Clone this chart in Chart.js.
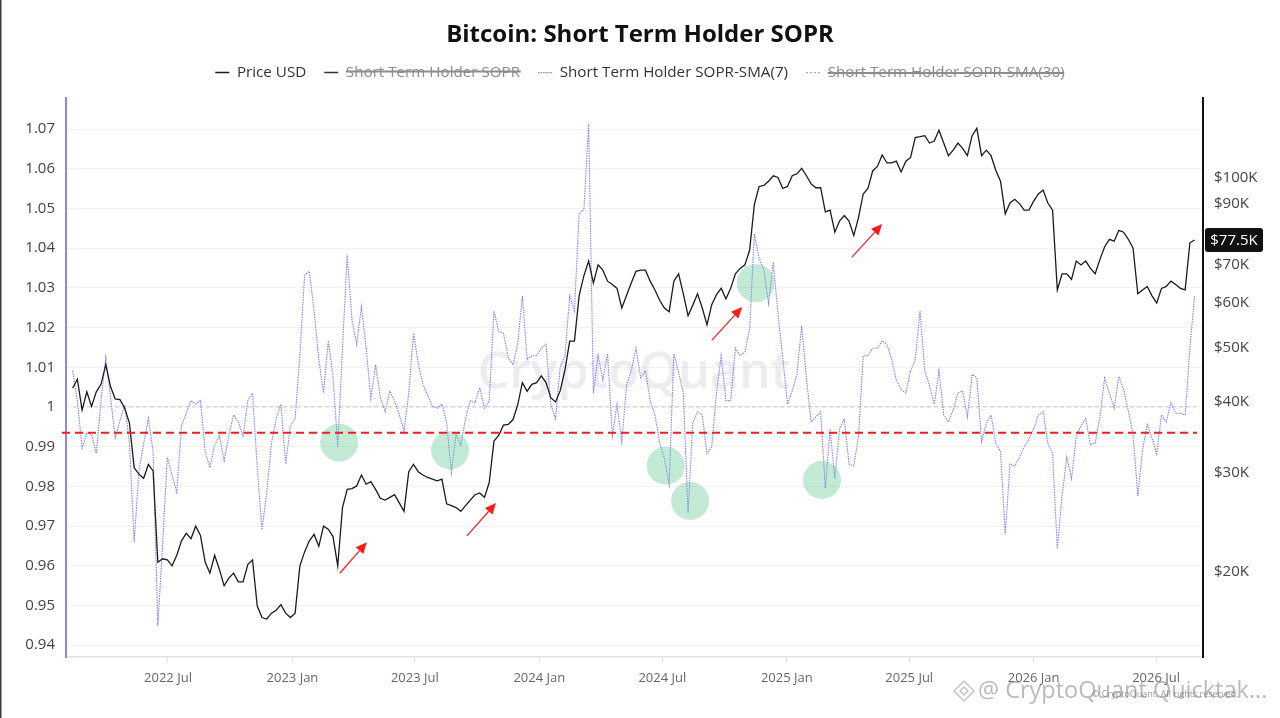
<!DOCTYPE html>
<html>
<head>
<meta charset="utf-8">
<title>Bitcoin: Short Term Holder SOPR</title>
<script src="https://cdn.jsdelivr.net/npm/chart.js@4.4.1/dist/chart.umd.min.js"></script>
<style>
  html, body { margin: 0; padding: 0; background: #fff; }
  #wrap { width: 1280px; height: 718px; position: relative; }
</style>
</head>
<body>
<div id="wrap"><canvas id="chart" width="1280" height="718"></canvas></div>
<script>
// weekly samples, first one on 2022-02-10
const startDate = '2022-02-10';
const stepDays = 7;

// Price USD
const priceUsd = [
  42300, 43900, 38700, 41700, 39300, 41700, 43000, 46600, 42600, 40500,
  40400, 39000, 36700, 30600, 29800, 29300, 31000, 30200, 20800, 21100,
  21000, 20500, 21400, 22700, 23400, 22900, 24100, 23200, 20800, 19900,
  21400, 20200, 18900, 19500, 19900, 19200, 19200, 20600, 21000, 17400,
  16600, 16500, 16900, 17100, 17500, 16900, 16600, 16900, 20500, 21700,
  22700, 23300, 22200, 24100, 23800, 23100, 20500, 26000, 28000,
  28100, 28400, 29700, 28600, 28900, 28000, 27000, 26800, 27100, 27400,
  26500, 25600, 30100, 31000, 30100, 29700, 29400, 29200, 29000, 29200,
  26400, 26200, 26000, 25600, 26200, 26800, 27400, 27600, 27100, 28800,
  34100, 34900, 36400, 36500, 37200, 39500, 43300, 41800, 43000, 43300,
  44500, 43300, 40700, 40000, 41900, 45600, 51300, 51300, 61800, 67000,
  71100, 65000, 70000, 68500, 65500, 64600, 63600, 58700, 61800,
  65000, 68200, 68500, 68500, 65500, 63200, 60600, 58700, 57800, 65500,
  67500, 62200, 56900, 59400, 62200, 58700, 54800, 59500, 62000, 63600,
  60900, 63600, 67500, 69000, 70000, 74300, 89500, 96400, 96800, 98500,
  100700, 100000, 95600, 96400, 100700, 101500, 103800, 100700, 97400, 95900,
  95900, 86900, 87500, 80000, 83700, 85600, 83700, 78900, 84900, 93500,
  95600, 102700, 104600, 109600, 106100, 106100, 106900, 102300, 106900,
  108500, 117700, 118100, 118600, 115100, 116000, 121300, 115100, 109300, 111800,
  115100, 112600, 109300, 118600, 122200, 109300, 111800, 109300, 103000, 98500,
  86200, 90100, 91500, 89900, 87500, 87500, 90800, 93500, 95000, 90100,
  87500, 63200, 67500, 67500, 66000, 71100, 70000, 71100, 69000, 67500,
  71600, 75400, 77700, 77100, 80600, 80000, 77700, 74900, 62200, 63200,
  64100, 61700, 59900, 63600, 64100, 65500, 64600, 63600, 63200, 76600,
  77500
];

// Short Term Holder SOPR-SMA(7)
const soprSma7 = [
  1.0092, 1.0016, 0.9896, 0.9935, 0.9931, 0.9882, 1.0016, 1.0125, 1.0025, 0.9922,
  0.9966, 1.0005, 0.9909, 0.9660, 0.9838, 0.9907, 0.9971, 0.9887, 0.9449, 0.9652,
  0.9873, 0.9829, 0.9785, 0.9953, 0.9984, 1.0016, 1.0007, 1.0016, 0.9887, 0.9847,
  0.9904, 0.9927, 0.9865, 0.9928, 0.9980, 0.9962, 0.9927, 1.0016, 1.0035, 0.9847,
  0.9690, 0.9785, 0.9909, 0.9971, 1.0007, 0.9856, 0.9953, 0.9971, 1.0129, 1.0332,
  1.0342, 1.0242, 1.0120, 1.0035, 1.0167, 1.0077, 0.9900, 1.0148, 1.0384,
  1.0219, 1.0158, 1.0252, 1.0148, 1.0021, 1.0106, 1.0025, 0.9988, 1.0040, 1.0016,
  0.9980, 0.9940, 1.0035, 1.0186, 1.0110, 1.0058, 1.0030, 1.0002, 0.9997, 1.0007,
  0.9962, 0.9835, 0.9931, 0.9904, 0.9971, 1.0016, 1.0011, 1.0049, 0.9997, 1.0016,
  1.0242, 1.0191, 1.0186, 1.0125, 1.0106, 1.0158, 1.0280, 1.0120, 1.0129, 1.0129,
  1.0148, 1.0158, 1.0007, 0.9971, 1.0101, 1.0129, 1.0280, 1.0242, 1.0488, 1.0497,
  1.0714, 1.0035, 1.0129, 1.0068, 1.0134, 0.9927, 1.0007, 0.9913, 1.0054,
  1.0092, 1.0148, 1.0073, 1.0092, 1.0016, 0.9980, 0.9909, 0.9870, 0.9805, 1.0134,
  1.0087, 1.0035, 0.9732, 0.9962, 0.9988, 0.9980, 0.9882, 0.9900, 1.0035, 1.0129,
  1.0016, 1.0016, 1.0148, 1.0129, 1.0139, 1.0195, 1.0436, 1.0375, 1.0346, 1.0261,
  1.0365, 1.0233, 1.0125, 1.0007, 1.0040, 1.0082, 1.0205, 1.0073, 0.9962, 0.9975,
  0.9988, 0.9795, 0.9944, 0.9820, 0.9944, 0.9971, 0.9856, 0.9851, 0.9927, 1.0129,
  1.0129, 1.0148, 1.0148, 1.0167, 1.0158, 1.0120, 1.0068, 1.0044, 1.0035,
  1.0092, 1.0120, 1.0242, 1.0092, 1.0054, 1.0007, 1.0092, 0.9980, 0.9962, 0.9993,
  1.0035, 1.0040, 0.9975, 1.0082, 1.0073, 0.9913, 0.9958, 0.9980, 0.9909, 0.9887,
  0.9679, 0.9856, 0.9851, 0.9873, 0.9900, 0.9918, 0.9944, 0.9980, 0.9988, 0.9909,
  0.9882, 0.9643, 0.9776, 0.9873, 0.9820, 0.9927, 0.9953, 0.9971, 0.9904, 0.9909,
  0.9975, 1.0073, 1.0035, 0.9997, 1.0077, 1.0044, 0.9990, 0.9931, 0.9776, 0.9891,
  0.9958, 0.9922, 0.9882, 0.9980, 0.9962, 1.0011, 0.9984, 0.9984, 0.9980, 1.0148,
  1.0280
];

const xTickMonths = ['2022-07', '2023-01', '2023-07', '2024-01', '2024-07', '2025-01', '2025-07', '2026-01', '2026-07'];
const soprTicks = [0.94, 0.95, 0.96, 0.97, 0.98, 0.99, 1.00, 1.01, 1.02, 1.03, 1.04, 1.05, 1.06, 1.07];
const priceTicks = [20000, 30000, 40000, 50000, 60000, 70000, 90000, 100000];
const monthNames = ['Jan', 'Feb', 'Mar', 'Apr', 'May', 'Jun', 'Jul', 'Aug', 'Sep', 'Oct', 'Nov', 'Dec'];

// annotations drawn on top of the chart (date, SOPR value)
const refLevel = 1.0;
const redLevel = 0.9935;
const greenCircles = [
  ['2023-03-11', 0.9910], ['2023-08-22', 0.9891], ['2024-07-06', 0.9852],
  ['2024-08-11', 0.9763], ['2024-11-16', 1.0312], ['2025-02-22', 0.9816]
];
const redArrows = [
  ['2023-03-12', 0.9581, '2023-04-21', 0.9659],
  ['2023-09-16', 0.9675, '2023-10-29', 0.9758],
  ['2024-09-12', 1.0168, '2024-10-27', 1.0252],
  ['2025-04-07', 1.0377, '2025-05-22', 1.0461]
];

const DAY = 86400000;
const toMs = d => Date.parse(d + 'T00:00:00Z');
const t0 = toMs(startDate);
const xOf = i => t0 + i * stepDays * DAY;
const base = Date.UTC(2022, 0, 1);

Chart.defaults.font.family = "'Open Sans', 'Noto Sans', sans-serif";
Chart.defaults.color = '#444';

const fmtK = v => '$' + Math.round(v / 1000) + 'K';

const overlay = {
  id: 'overlay',
  afterInit(chart) {
    // leave a gap between the legend and the plot
    const fit = chart.legend.fit;
    chart.legend.fit = function () { fit.call(this); this.height += 8; };
  },
  beforeDatasetsDraw(chart) {
    const { ctx, chartArea: a, scales: { y } } = chart;
    ctx.save();
    // watermark
    ctx.fillStyle = 'rgba(185,185,195,0.26)';
    ctx.font = "600 50px 'Open Sans', sans-serif";
    ctx.textAlign = 'center';
    ctx.textBaseline = 'middle';
    ctx.fillText('CryptoQuant', 634, 374);
    // reference line at 1
    const yr = y.getPixelForValue(refLevel);
    ctx.strokeStyle = '#cfcfcf';
    ctx.lineWidth = 1.2;
    ctx.setLineDash([4, 3]);
    ctx.beginPath();
    ctx.moveTo(a.left + 7, yr);
    ctx.lineTo(a.right - 7, yr);
    ctx.stroke();
    ctx.restore();
  },
  afterDatasetsDraw(chart) {
    const { ctx, chartArea: a, scales: { x, y, y1 } } = chart;
    ctx.save();
    // green circles
    ctx.fillStyle = 'rgba(95,200,145,0.38)';
    greenCircles.forEach(([d, v]) => {
      ctx.beginPath();
      ctx.arc(x.getPixelForValue(toMs(d)), y.getPixelForValue(v), 19, 0, Math.PI * 2);
      ctx.fill();
    });
    // red dashed level
    const yl = y.getPixelForValue(redLevel);
    ctx.strokeStyle = '#f21d1d';
    ctx.lineWidth = 2;
    ctx.setLineDash([8, 5]);
    ctx.beginPath();
    ctx.moveTo(a.left - 4, yl);
    ctx.lineTo(a.right - 6, yl);
    ctx.stroke();
    ctx.setLineDash([]);
    // red arrows
    redArrows.forEach(([d0, v0, d1, v1]) => {
      const x0 = x.getPixelForValue(toMs(d0)), y0 = y.getPixelForValue(v0);
      const x1 = x.getPixelForValue(toMs(d1)), y1p = y.getPixelForValue(v1);
      const ang = Math.atan2(y1p - y0, x1 - x0);
      const hl = 11, hw = 5;
      const bx = x1 - Math.cos(ang) * hl, by = y1p - Math.sin(ang) * hl;
      ctx.strokeStyle = '#ff1a1a';
      ctx.lineWidth = 1.2;
      ctx.beginPath();
      ctx.moveTo(x0, y0);
      ctx.lineTo(bx, by);
      ctx.stroke();
      ctx.fillStyle = '#ff1a1a';
      ctx.beginPath();
      ctx.moveTo(x1, y1p);
      ctx.lineTo(bx + Math.sin(ang) * hw, by - Math.cos(ang) * hw);
      ctx.lineTo(bx - Math.sin(ang) * hw, by + Math.cos(ang) * hw);
      ctx.closePath();
      ctx.fill();
    });
    // last price tag
    const last = priceUsd[priceUsd.length - 1];
    const yp = y1.getPixelForValue(last);
    ctx.fillStyle = '#111';
    ctx.beginPath();
    ctx.roundRect(a.right + 2, yp - 12, 58, 24, 3);
    ctx.fill();
    ctx.fillStyle = '#fff';
    ctx.font = "15px 'Open Sans', sans-serif";
    ctx.textAlign = 'center';
    ctx.textBaseline = 'middle';
    ctx.fillText('$' + (last / 1000).toFixed(1) + 'K', a.right + 31, yp + 1);
    ctx.restore();
  },
  afterDraw(chart) {
    const { ctx } = chart;
    ctx.save();
    // left frame edge
    ctx.fillStyle = '#3a3a3a';
    ctx.fillRect(0, 0, 1.5, 718);
    // bottom-right credit
    ctx.strokeStyle = 'rgba(150,150,150,0.55)';
    ctx.lineWidth = 1.5;
    ctx.beginPath();
    ctx.moveTo(964, 681); ctx.lineTo(974, 691); ctx.lineTo(964, 701); ctx.lineTo(954, 691); ctx.closePath();
    ctx.stroke();
    ctx.beginPath();
    ctx.moveTo(964, 687); ctx.lineTo(968, 691); ctx.lineTo(964, 695); ctx.lineTo(960, 691); ctx.closePath();
    ctx.stroke();
    ctx.fillStyle = 'rgba(140,140,140,0.6)';
    ctx.font = "23.5px 'Open Sans', sans-serif";
    ctx.textAlign = 'left';
    ctx.textBaseline = 'middle';
    ctx.fillText('@ CryptoQuant Quicktak...', 978, 691);
    ctx.fillStyle = 'rgba(110,110,110,0.7)';
    ctx.font = "9px 'Open Sans', sans-serif";
    ctx.fillText('\u00A9 CryptoQuant. All rights reserved.', 1092, 694);
    ctx.restore();
  }
};

new Chart(document.getElementById('chart'), {
  type: 'line',
  data: {
    datasets: [
      {
        label: 'Price USD',
        data: priceUsd.map((v, i) => ({ x: xOf(i), y: v })),
        yAxisID: 'y1',
        borderColor: '#1b1b1b',
        borderWidth: 1.3,
        pointRadius: 0,
        order: 0
      },
      {
        label: 'Short Term Holder SOPR',
        data: [],
        yAxisID: 'y',
        borderColor: '#333',
        borderWidth: 1.5,
        pointRadius: 0,
        hidden: true
      },
      {
        label: 'Short Term Holder SOPR-SMA(7)',
        data: soprSma7.map((v, i) => ({ x: xOf(i), y: v })),
        yAxisID: 'y',
        borderColor: 'rgba(104,92,255,0.8)',
        borderWidth: 1.1,
        borderDash: [1.5, 1],
        pointRadius: 0,
        order: 1
      },
      {
        label: 'Short Term Holder SOPR-SMA(30)',
        data: [],
        yAxisID: 'y',
        borderColor: '#aaa',
        borderWidth: 1,
        borderDash: [2, 2],
        pointRadius: 0,
        hidden: true
      }
    ]
  },
  options: {
    responsive: false,
    animation: false,
    devicePixelRatio: 1,
    layout: { padding: 0 },
    plugins: {
      title: {
        display: true,
        text: 'Bitcoin: Short Term Holder SOPR',
        color: '#111',
        font: { size: 24, weight: 'bold', lineHeight: 1 },
        padding: { top: 23, bottom: 0 }
      },
      legend: {
        display: true,
        position: 'top',
        labels: {
          usePointStyle: true,
          pointStyleWidth: 14,
          padding: 18,
          font: { size: 15.2 },
          generateLabels(chart) {
            return chart.data.datasets.map((ds, i) => {
              const visible = chart.isDatasetVisible(i);
              return {
                text: ds.label,
                fillStyle: ds.borderColor,
                strokeStyle: ds.borderColor,
                lineWidth: ds.borderDash ? 1.2 : 1.5,
                lineDash: ds.borderDash || [],
                pointStyle: 'line',
                hidden: !visible,
                fontColor: visible ? '#333' : '#8c8c8c',
                datasetIndex: i
              };
            });
          }
        }
      },
      tooltip: { enabled: false }
    },
    scales: {
      x: {
        type: 'linear',
        min: base + 30.2 * DAY,
        max: base + 1711.4 * DAY,
        afterBuildTicks(scale) {
          scale.ticks = xTickMonths.map(m => ({ value: toMs(m + '-01') }));
        },
        afterFit(scale) { scale.height = 61; },
        ticks: {
          color: '#666',
          font: { size: 13 },
          padding: 7,
          maxRotation: 0,
          autoSkip: false,
          callback(v) {
            const d = new Date(v);
            return d.getUTCFullYear() + ' ' + monthNames[d.getUTCMonth()];
          }
        },
        grid: { drawOnChartArea: false, drawTicks: true, tickLength: 6, color: '#e2e2e2' },
        border: { color: '#e2e2e2', width: 1.5 }
      },
      y: {
        type: 'linear',
        position: 'left',
        min: 0.937,
        max: 1.0778,
        afterBuildTicks(scale) {
          scale.ticks = soprTicks.map(v => ({ value: v }));
        },
        afterFit(scale) { scale.width = 66; },
        ticks: {
          color: '#444',
          font: { size: 15 },
          padding: 11,
          callback: v => String(Number(v.toFixed(2)))
        },
        grid: { color: '#f1f1f1', drawTicks: false },
        border: { color: '#8b83ff', width: 2 }
      },
      y1: {
        type: 'logarithmic',
        position: 'right',
        min: 14130,
        max: 138200,
        afterBuildTicks(scale) {
          scale.ticks = priceTicks.map(v => ({ value: v }));
        },
        afterFit(scale) { scale.width = 77; },
        ticks: {
          color: '#444',
          font: { size: 15 },
          padding: 11,
          callback: v => fmtK(v)
        },
        grid: { drawOnChartArea: false, drawTicks: false },
        border: { color: '#111', width: 2 }
      }
    }
  },
  plugins: [overlay]
});
</script>
</body>
</html>
